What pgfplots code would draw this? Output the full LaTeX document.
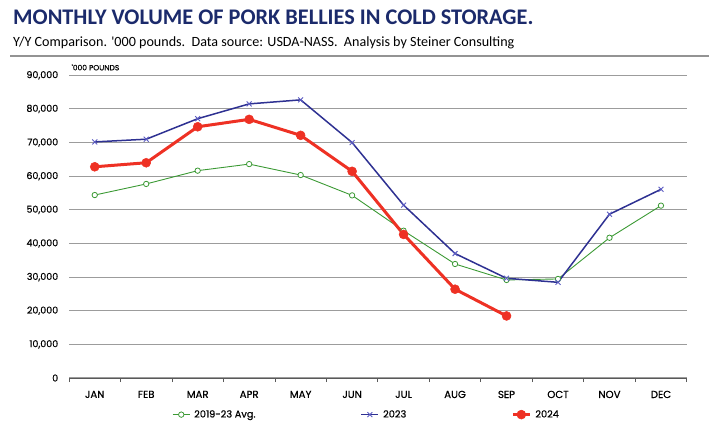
\documentclass[border=0pt]{standalone}
\usepackage{fontspec}
\setmainfont{Carlito}
\newfontfamily\axisfont[UprightFeatures={FakeBold=0.6}]{Poppins}
\usepackage{pgfplots}
\pgfplotsset{compat=1.18}

\definecolor{titlenavy}{HTML}{1B2A6B}
\definecolor{avggreen}{HTML}{3C9A35}
\definecolor{yrblue}{HTML}{2E3192}
\definecolor{yrbluemark}{HTML}{5B5BC2}
\definecolor{yrred}{HTML}{EE3124}
\definecolor{gridgray}{HTML}{9C9C9C}

\begin{document}
\begin{tikzpicture}[x=1pt,y=1pt]
\path[use as bounding box] (0,0) rectangle (722,428);

\node[anchor=base west, inner sep=0, text=titlenavy,
      font=\fontsize{22.3}{26}\selectfont\bfseries] at (13,403)
  {MONTHLY VOLUME OF PORK BELLIES IN COLD STORAGE.};
\node[anchor=base west, inner sep=0, font=\fontsize{14.1}{17}\selectfont] at (13,381)
  {Y/Y Comparison. \textquotesingle 000 pounds.\ \ Data source: USDA-NASS.\ \ Analysis by Steiner Consulting};
\draw[line width=1.5pt, color=gray!85] (10,372) -- (709,372);

\begin{axis}[
  at={(69pt,50pt)}, anchor=south west,
  scale only axis, width=617.7pt, height=302.7pt,
  xmin=-0.5, xmax=11.5, ymin=0, ymax=90000,
  axis lines*=left,
  x axis line style={-, draw=black!65, line width=1pt},
  y axis line style={draw=none},
  xtick={0,...,11},
  xticklabels={JAN,FEB,MAR,APR,MAY,JUN,JUL,AUG,SEP,OCT,NOV,DEC},
  major x tick style={draw=none},
  minor xtick={-0.5,0.5,...,11.5},
  minor x tick style={draw=black!65, line width=0.8pt},
  minor tick length=4pt,
  tick align=outside,
  ytick={0,10000,...,90000},
  major y tick style={draw=none},
  ymajorgrids,
  major grid style={draw=gridgray, line width=1.1pt},
  scaled y ticks=false,
  /pgf/number format/.cd, fixed, 1000 sep={,}, assume math mode=true,
  /pgfplots/.cd,
  ticklabel style={font=\axisfont\fontsize{9.5}{11}\selectfont},
  yticklabel style={xshift=-3pt},
  xticklabel style={yshift=-5pt, font=\axisfont\fontsize{10.2}{12}\selectfont},
  legend columns=3,
  legend style={draw=none, fill=none, at={(0.162,-0.121)}, anchor=west,
    font=\axisfont\fontsize{9.8}{11}\selectfont,
    /tikz/every odd column/.append style={column sep=2pt},
    /tikz/every even column/.append style={column sep=103pt}},
  clip=false,
]
% five-year average
\addplot[color=avggreen, line width=0.9pt, mark=*, mark size=2.7pt,
  mark options={fill=white, draw=avggreen, line width=0.8pt}]
  coordinates {(0,54400) (1,57700) (2,61650) (3,63600) (4,60350) (5,54300)
               (6,43800) (7,33900) (8,29150) (9,29450) (10,41700) (11,51250)};
\addlegendentry{2019-23 Avg.}
% 2023
\addplot[color=yrblue, line width=1.5pt, mark=x, mark size=3.5pt,
  mark options={draw=yrbluemark, line width=0.9pt}]
  coordinates {(0,70200) (1,71000) (2,77100) (3,81500) (4,82700) (5,70000)
               (6,51400) (7,37000) (8,29650) (9,28450) (10,48700) (11,56100)};
\addlegendentry{2023}
% 2024
\addplot[color=yrred, line width=3pt, mark=*, mark size=4.5pt,
  mark options={fill=yrred, draw=yrred, line width=0.5pt}]
  coordinates {(0,62800) (1,64000) (2,74700) (3,76900) (4,72150) (5,61450)
               (6,42700) (7,26400) (8,18450)};
\addlegendentry{2024}

\node[anchor=base west, inner sep=0, font=\axisfont\fontsize{7.5}{9}\selectfont]
  at ([yshift=5pt]rel axis cs:0.004,1) {\textquotesingle 000 POUNDS};
\end{axis}
\end{tikzpicture}
\end{document}
